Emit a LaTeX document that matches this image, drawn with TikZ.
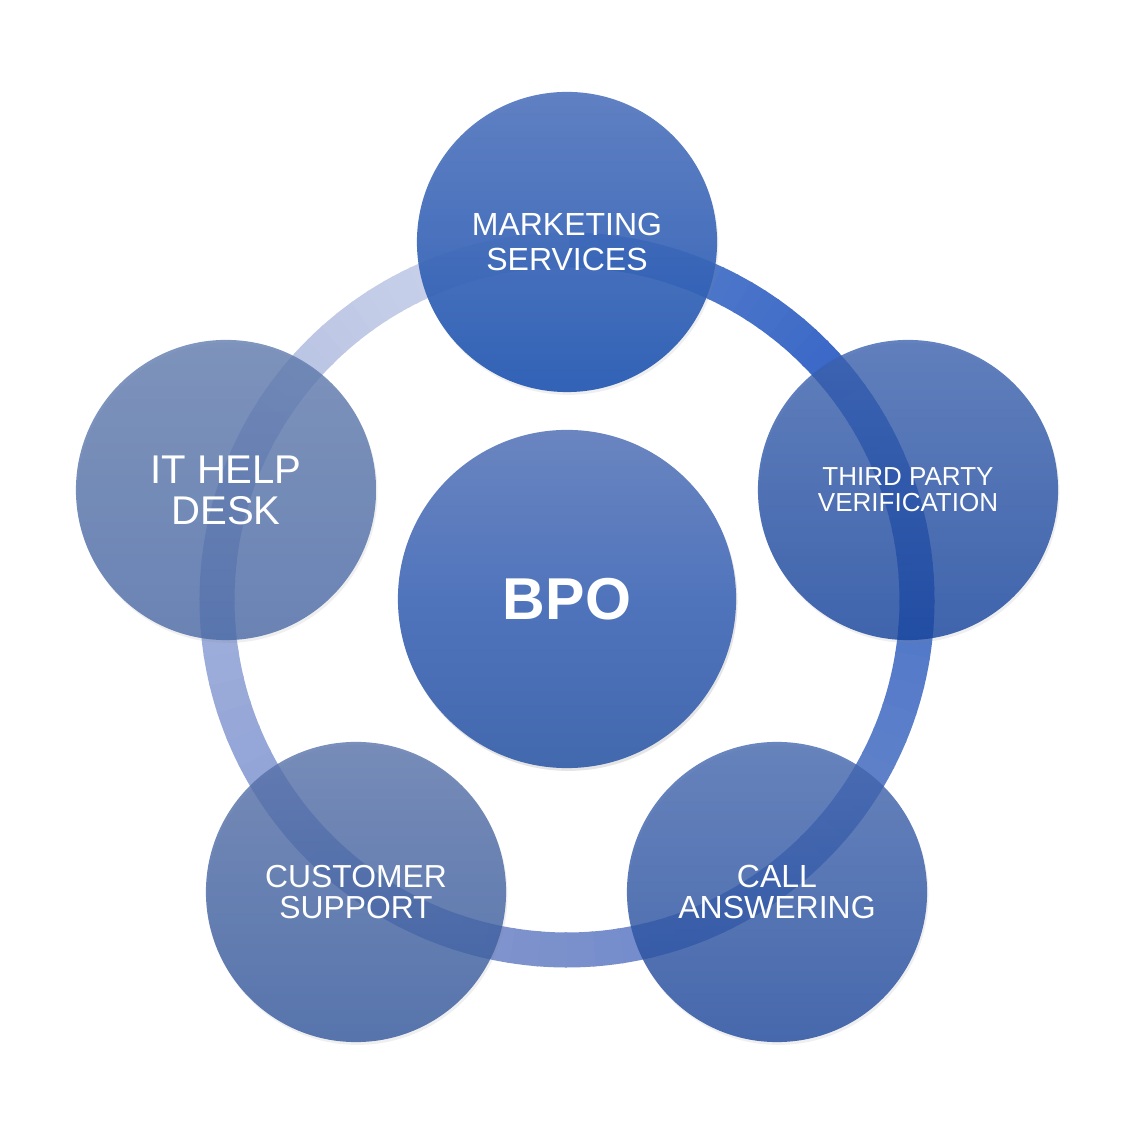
\documentclass[tikz,border=0pt]{standalone}
\usepackage{fontspec}
\setmainfont{Liberation Sans}
\usetikzlibrary{shadows}
\definecolor{rA}{HTML}{5F84CA}
\definecolor{rB}{HTML}{3A68C8}
\definecolor{rC}{HTML}{5078C8}
\definecolor{rD}{HTML}{7A90CC}
\definecolor{rE}{HTML}{9FAFDC}
\definecolor{rF}{HTML}{C5CEE8}
\definecolor{rG}{HTML}{C8D0E8}
\definecolor{hubTop}{HTML}{6A85C0}
\definecolor{hubMid}{HTML}{5074BC}
\definecolor{hubBot}{HTML}{4268AE}
\definecolor{mkTop}{HTML}{5477BF}
\definecolor{mkBot}{HTML}{2257B2}
\definecolor{tpTop}{HTML}{3D63AF}
\definecolor{tpBot}{HTML}{14429C}
\definecolor{itTop}{HTML}{617CAE}
\definecolor{itBot}{HTML}{4A69A6}
\definecolor{csTop}{HTML}{5973AA}
\definecolor{csBot}{HTML}{31569C}
\definecolor{caTop}{HTML}{4568AF}
\definecolor{caBot}{HTML}{1D479C}
\tikzset{
  bubble/.style={circle, inner sep=0pt, minimum size=3cm, text=white, text opacity=1,
    align=center, fill opacity=0.8,
    drop shadow={opacity=0.12, shadow xshift=0.4pt, shadow yshift=-0.8pt}},
  hub/.style={circle, inner sep=0pt, minimum size=3.38cm, text=white, align=center,
    drop shadow={opacity=0.2, shadow xshift=0.4pt, shadow yshift=-0.8pt}}
}
\begin{document}
\begin{tikzpicture}[x=0.01cm, y=0.01cm]
\useasboundingbox (0,0) rectangle (1134,1134);
\fill[white] (0,0) rectangle (1134,1134);
\coordinate (ringc) at (567,534);
% ring with angular gradient
\foreach \a/\b/\ca/\cb in {90/40/rA/rB, 40/0/rB/rC, 0/-90/rC/rD, -90/-180/rD/rE, -180/-240/rE/rF, -240/-270/rF/rG}{
  \foreach \i in {0,...,19}{
    \pgfmathsetmacro\s{\a+(\b-\a)*\i/20}
    \pgfmathsetmacro\e{\a+(\b-\a)*(\i+1)/20-0.4}
    \pgfmathtruncatemacro\p{100-100*(\i+0.5)/20}
    \draw[line width=0.35cm, color=\ca!\p!\cb] (ringc) ++(\s:350) arc[start angle=\s, end angle=\e, radius=350];
  }
}
% hub
\node[hub, top color=hubTop, bottom color=hubBot, middle color=hubMid,
  font=\bfseries\fontsize{16.8pt}{18pt}\selectfont] (bpo) at (567,535) {BPO};
% satellites
\node[bubble, top color=mkTop, bottom color=mkBot, fill opacity=0.92,
  font=\fontsize{9.1pt}{9.7pt}\selectfont] (mkt) at (567,892) {MARKETING\\SERVICES};
\node[bubble, top color=tpTop, bottom color=tpBot,
  font=\fontsize{7.4pt}{7.4pt}\selectfont] (tpv) at (908,644) {THIRD PARTY\\VERIFICATION};
\node[bubble, top color=itTop, bottom color=itBot,
  font=\fontsize{11.4pt}{11.7pt}\selectfont] (itd) at (226,644) {IT HELP\\DESK};
\node[bubble, top color=csTop, bottom color=csBot,
  font=\fontsize{9.05pt}{8.6pt}\selectfont] (cus) at (356,242) {CUSTOMER\\SUPPORT};
\node[bubble, top color=caTop, bottom color=caBot,
  font=\fontsize{9.1pt}{8.6pt}\selectfont] (cal) at (777,242) {CALL\\ANSWERING};
\end{tikzpicture}
\end{document}
